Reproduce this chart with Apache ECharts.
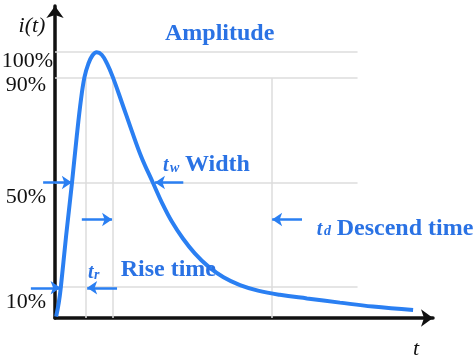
<!DOCTYPE html>
<html><head><meta charset="utf-8">
<script src="https://cdn.jsdelivr.net/npm/echarts@6/dist/echarts.min.js"></script>
<style>html,body{margin:0;padding:0;background:#fff}#c{width:474px;height:357px}</style>
</head><body><div id="c"></div>
<script>
// pulse current i(t), percent of amplitude, against time (arbitrary units)
const pulseT = [0.3, 1.0, 1.5, 2.9, 4.4, 5.7, 6.8, 7.7, 8.7, 9.8, 10.9, 12.2, 13.6, 15.1, 17.5, 20.0, 22.5, 25.6, 28.0, 30.5, 33.4, 36.5, 40.0, 44.0, 48.3, 53.0, 58.7, 65.8, 74.4, 83.0, 93.5];
const pulseI = [-1.5, 4.0, 9.5, 29.5, 49.4, 68.0, 82.0, 90.4, 95.5, 98.8, 100, 99.0, 95.6, 90.4, 80.5, 70.0, 60.0, 49.8, 42.0, 35.0, 28.5, 22.8, 17.8, 13.6, 10.6, 8.5, 6.9, 5.5, 3.9, 2.4, 1.1];
const levelLines = [10, 50, 90, 100];
const levelLabels = ['100%', '90%', '50%', '10%'];
const timeMarks = [8.1, 15.1, 56.6];
// annotation arrows: start time, end time (arrow head), level
const arrowFrom = [-3.1, -6.3, 7.0, 16.2, 33.5, 64.5];
const arrowTo = [4.4, 1.45, 14.9, 8.4, 26.1, 56.7];
const arrowLevel = [50, 9.6, 35.8, 9.6, 50, 35.8];

const BLUE = '#2a7ff2';
const TXT = '#2a72e4';
const SERIF = '"Liberation Serif", "Times New Roman", serif';

const chart = echarts.init(document.getElementById('c'), null, {renderer: 'canvas'});

const gridData = [];
levelLines.forEach(v => gridData.push({coords: [[0, v], [79, v]]}));
timeMarks.forEach(t => gridData.push({coords: [[t, -2], [t, 90]]}));
const arrowData = arrowFrom.map((f, i) => ({coords: [[f, arrowLevel[i]], [arrowTo[i], arrowLevel[i]]]}));

function txt(x, y, text, font, fill, align) {
  return {type: 'text', x: x, y: y, silent: true, z: 100,
    style: {text: text, font: font, fill: fill, textAlign: align || 'left', textVerticalAlign: 'middle'}};
}

chart.setOption({
  animation: false,
  grid: {left: 55, top: 6, width: 378, height: 312},
  xAxis: {type: 'value', min: 0, max: 98.7,
    axisLine: {show: true, onZero: false, symbol: ['none', 'arrow'], symbolSize: [13, 12], lineStyle: {color: '#111', width: 3.5}},
    axisTick: {show: false}, axisLabel: {show: false}, splitLine: {show: false}},
  yAxis: {type: 'value', min: -2, max: 117.7,
    axisLine: {show: true, onZero: false, symbol: ['none', 'arrow'], symbolSize: [13, 12], lineStyle: {color: '#111', width: 3.5}},
    axisTick: {show: false}, axisLabel: {show: false}, splitLine: {show: false}},
  series: [
    {type: 'lines', coordinateSystem: 'cartesian2d', data: gridData, silent: true, z: 1,
      lineStyle: {color: '#dcdcdc', width: 1.5, opacity: 1}},
    {type: 'lines', coordinateSystem: 'cartesian2d', data: arrowData, silent: true, z: 3, clip: false,
      symbol: ['none', 'arrow'], symbolSize: 10,
      lineStyle: {color: BLUE, width: 2.5, opacity: 1}},
    {type: 'line', data: pulseT.map((t, i) => [t, pulseI[i]]), showSymbol: false, smooth: 0.4, z: 4,
      lineStyle: {color: BLUE, width: 4}, clip: false}
  ],
  graphic: [
    txt(32, 26.3, 'i(t)', 'italic 22px ' + SERIF, '#111', 'center'),
    txt(53, 61, levelLabels[0], '22px ' + SERIF, '#111', 'right'),
    txt(46, 85.5, levelLabels[1], '22px ' + SERIF, '#111', 'right'),
    txt(46, 197.5, levelLabels[2], '22px ' + SERIF, '#111', 'right'),
    txt(46, 302, levelLabels[3], '22px ' + SERIF, '#111', 'right'),
    txt(165, 33.7, 'Amplitude', 'bold 24px ' + SERIF, TXT),
    txt(163, 165.6, 't', 'italic bold 20px ' + SERIF, TXT),
    txt(170, 168.7, 'w', 'italic bold 14px ' + SERIF, TXT),
    txt(185, 164.4, 'Width', 'bold 24px ' + SERIF, TXT),
    txt(88, 272.9, 't', 'italic bold 20px ' + SERIF, TXT),
    txt(94, 275.7, 'r', 'italic bold 14px ' + SERIF, TXT),
    txt(120.7, 269.4, 'Rise time', 'bold 24px ' + SERIF, TXT),
    txt(316.7, 229.6, 't', 'italic bold 20px ' + SERIF, TXT),
    txt(324, 231.7, 'd', 'italic bold 14px ' + SERIF, TXT),
    txt(336.7, 228.4, 'Descend time', 'bold 24px ' + SERIF, TXT),
    txt(416, 349.3, 't', 'italic 22px ' + SERIF, '#111', 'center')
  ]
});
</script></body></html>
